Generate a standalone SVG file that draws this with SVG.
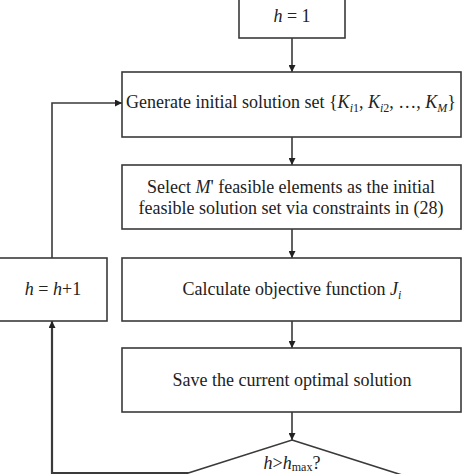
<svg xmlns="http://www.w3.org/2000/svg" width="474" height="474" viewBox="0 0 474 474">
<style>
.box{fill:#fff;stroke:#3a3a3a;stroke-width:1.6}
.ln{fill:none;stroke:#3a3a3a;stroke-width:1.6}
text{font-family:"Liberation Serif","Times New Roman",serif;font-size:18px;fill:#222;text-anchor:middle}
.i{font-style:italic}
.s{font-size:12px}
</style>
<defs>
<marker id="ar" viewBox="0 0 10 10" refX="10" refY="5" markerWidth="7" markerHeight="7" markerUnits="userSpaceOnUse" orient="auto">
<path d="M0,0 L10,5 L0,10 z" fill="#222"/>
</marker>
</defs>
<rect width="474" height="474" fill="#fff"/>
<g id="connectors">
<line class="ln" x1="292" y1="38" x2="292" y2="72" marker-end="url(#ar)"/>
<line class="ln" x1="292" y1="137" x2="292" y2="165" marker-end="url(#ar)"/>
<line class="ln" x1="292" y1="229" x2="292" y2="258" marker-end="url(#ar)"/>
<line class="ln" x1="292" y1="321" x2="292" y2="348" marker-end="url(#ar)"/>
<line class="ln" x1="292" y1="412" x2="292" y2="440" marker-end="url(#ar)"/>
<polyline class="ln" points="52,258 52,103 122,103" marker-end="url(#ar)"/>
<polyline class="ln" points="189,473 52,473 52,321" marker-end="url(#ar)" style="stroke-width:2.2"/>
</g>
<g id="n1">
<rect class="box" x="239" y="-2" width="106" height="40"/>
<text x="292" y="22"><tspan class="i">h</tspan> = 1</text>
</g>
<g id="n2">
<rect class="box" x="122" y="72" width="339" height="65"/>
<text x="291" y="108">Generate initial solution set {<tspan class="i">K</tspan><tspan class="i s" dy="4">i</tspan><tspan class="s">1</tspan><tspan dy="-4">, </tspan><tspan class="i">K</tspan><tspan class="i s" dy="4">i</tspan><tspan class="s">2</tspan><tspan dy="-4">, …, </tspan><tspan class="i">K</tspan><tspan class="i s" dy="4">M</tspan><tspan dy="-4">}</tspan></text>
</g>
<g id="n3">
<rect class="box" x="122" y="165" width="339" height="64"/>
<text x="291" y="193">Select <tspan class="i">M</tspan>' feasible elements as the initial</text>
<text x="291" y="214">feasible solution set via constraints in (28)</text>
</g>
<g id="n4">
<rect class="box" x="122" y="258" width="339" height="63"/>
<text x="292" y="295">Calculate objective function <tspan class="i">J</tspan><tspan class="i s" dy="4">i</tspan></text>
</g>
<g id="n5">
<rect class="box" x="122" y="348" width="339" height="64"/>
<text x="292" y="386">Save the current optimal solution</text>
</g>
<g id="n6">
<rect class="box" x="-2" y="258" width="109" height="63"/>
<text x="53" y="295"><tspan class="i">h</tspan> = <tspan class="i">h</tspan>+1</text>
</g>
<g id="n7">
<polygon class="box" points="292,440 424,482 292,524 160,482"/>
<text x="292" y="469"><tspan class="i">h</tspan>&gt;<tspan class="i">h</tspan><tspan class="s" dy="2">max</tspan><tspan dy="-2">?</tspan></text>
</g>
</svg>
